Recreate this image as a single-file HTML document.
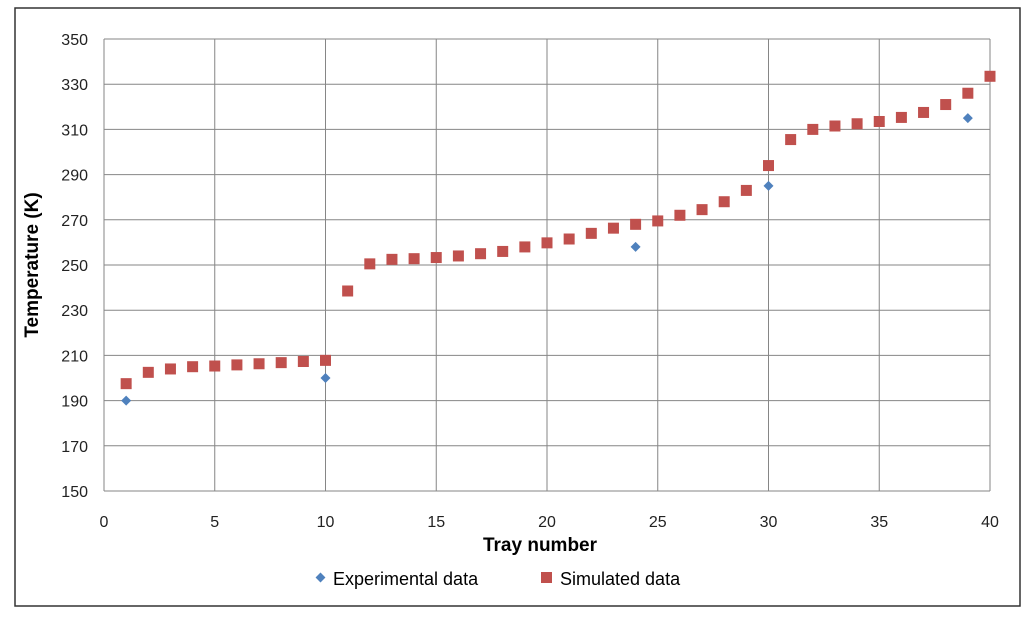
<!DOCTYPE html>
<html><head><meta charset="utf-8"><style>
body{margin:0;background:#fff;width:1029px;height:613px;overflow:hidden}
text{font-family:"Liberation Sans",sans-serif}
</style></head><body>
<svg id="chart" width="1029" height="613">
<rect x="15" y="8" width="1005" height="598" fill="#fff" stroke="#333" stroke-width="1.5"/>
<g id="grid"></g>
<g id="ticks"></g>
<g id="marks"></g>
<text x="38" y="265" transform="rotate(-90 38 265)" text-anchor="middle" font-size="19" font-weight="bold" fill="#000">Temperature (K)</text>
<text x="540" y="551" text-anchor="middle" font-size="19" font-weight="bold" fill="#000">Tray number</text>
<g>
<g>
<rect x="317" y="574" width="7" height="7" fill="#4f81bd" transform="rotate(45 320.5 577.5)"/>
<text x="333" y="585" font-size="18" fill="#000">Experimental data</text></g>
<g>
<rect x="541" y="572" width="11" height="11" fill="#c0504d"/>
<text x="560" y="585" font-size="18" fill="#000">Simulated data</text></g>
</g>
</svg>
<script>
const xTicks=[0,5,10,15,20,25,30,35,40];
const yTicks=[150,170,190,210,230,250,270,290,310,330,350];
const simX=[1,2,3,4,5,6,7,8,9,10,11,12,13,14,15,16,17,18,19,20,21,22,23,24,25,26,27,28,29,30,31,32,33,34,35,36,37,38,39,40];
const simY=[197.5,202.5,204,205,205.3,205.8,206.3,206.8,207.3,207.8,238.5,250.5,252.5,252.8,253.3,254,255,256,258,259.8,261.5,264,266.3,268,269.5,272,274.5,278,283,294,305.5,310,311.5,312.5,313.5,315.3,317.5,321,326,333.5];
const expX=[1,10,24,30,39];
const expY=[190,200,258,285,315];
const L=104,R=990,T=39,B=491;
const sx=v=>L+(v-0)/40*(R-L);
const sy=v=>B-(v-150)/200*(B-T);
const NS="http://www.w3.org/2000/svg";
function mk(p,tag,at){const e=document.createElementNS(NS,tag);for(const k in at)e.setAttribute(k,at[k]);p.appendChild(e);return e;}
const grid=document.getElementById('grid'),ticks=document.getElementById('ticks'),marks=document.getElementById('marks');
yTicks.forEach(v=>{const l=mk(grid,'line',{x1:L,x2:R,y1:sy(v),y2:sy(v),stroke:'#868686','stroke-width':1});


const t=mk(ticks,'text',{x:L-16,y:sy(v)+6,'text-anchor':'end','font-size':16,fill:'#222'});t.textContent=v;

});
xTicks.forEach(v=>{const l=mk(grid,'line',{x1:sx(v),x2:sx(v),y1:T,y2:B,stroke:'#868686','stroke-width':1});


const t=mk(ticks,'text',{x:sx(v),y:527,'text-anchor':'middle','font-size':16,fill:'#222'});t.textContent=v;

});
simX.forEach((x,i)=>{const r=mk(marks,'rect',{x:sx(x)-5.5,y:sy(simY[i])-5.5,width:11,height:11,fill:'#c0504d'});

});
expX.forEach((x,i)=>{const cx=sx(x),cy=sy(expY[i]);const p=mk(marks,'polygon',{points:`${cx},${cy-5} ${cx+5},${cy} ${cx},${cy+5} ${cx-5},${cy}`,fill:'#4f81bd'});

});
</script>
</body></html>
